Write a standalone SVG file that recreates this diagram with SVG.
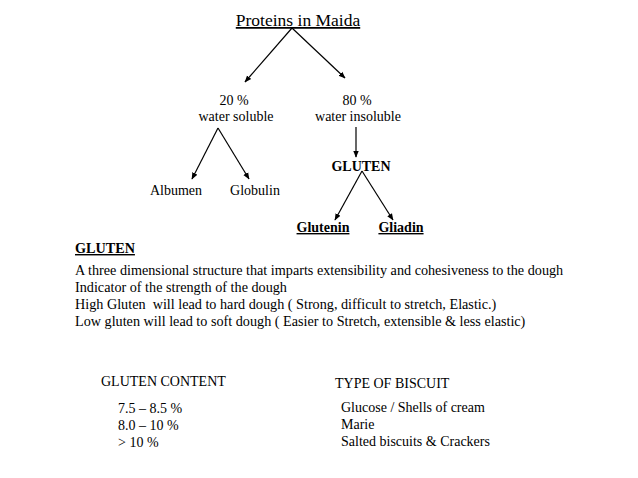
<svg xmlns="http://www.w3.org/2000/svg" width="638" height="478" viewBox="0 0 638 478">
<defs>
<marker id="ah" viewBox="0 0 10 10" refX="9" refY="5" markerWidth="7" markerHeight="7" markerUnits="userSpaceOnUse" orient="auto">
<path d="M0,1 L10,5 L0,9 Z" fill="#000"/>
</marker>
<style>
text{font-family:"Liberation Serif","Times New Roman",serif;fill:#000;font-size:14px}
.t{font-size:17.5px}
.d{font-size:14.2px;white-space:pre}
.b{font-weight:bold}
.m{text-anchor:middle}
.u{text-decoration:underline}
line{stroke:#000;stroke-width:1.2}
</style>
</defs>
<rect width="638" height="478" fill="#fff"/>
<g id="connectors">
<line x1="292" y1="28" x2="245" y2="82" marker-end="url(#ah)"/>
<line x1="292" y1="28" x2="345" y2="78" marker-end="url(#ah)"/>
<line x1="218" y1="128" x2="192" y2="179" marker-end="url(#ah)"/>
<line x1="218" y1="128" x2="249" y2="179" marker-end="url(#ah)"/>
<line x1="356" y1="127" x2="356" y2="157" marker-end="url(#ah)"/>
<line x1="362" y1="171" x2="335" y2="220" marker-end="url(#ah)"/>
<line x1="362" y1="171" x2="393" y2="220" marker-end="url(#ah)"/>
</g>
<g id="title"><text class="t m u" x="298" y="26">Proteins in Maida</text></g>
<g id="soluble"><text class="m" x="234" y="105">20 %</text><text class="m" x="236" y="121">water soluble</text></g>
<g id="insoluble"><text class="m" x="357" y="105">80 %</text><text class="m" x="358" y="121">water insoluble</text></g>
<g id="albumen"><text class="m" x="176" y="195">Albumen</text></g>
<g id="globulin"><text class="m" x="255" y="195">Globulin</text></g>
<g id="gluten"><text class="m b" x="361" y="171">GLUTEN</text></g>
<g id="glutenin"><text class="m b u" x="323" y="232">Glutenin</text></g>
<g id="gliadin"><text class="m b u" x="401" y="232">Gliadin</text></g>
<g id="description">
<text class="d b u" x="75" y="253">GLUTEN</text>
<text class="d" x="75" y="275">A three dimensional structure that imparts extensibility and cohesiveness to the dough</text>
<text class="d" x="75" y="292">Indicator of the strength of the dough</text>
<text class="d" x="75" y="309">High Gluten  will lead to hard dough ( Strong, difficult to stretch, Elastic.)</text>
<text class="d" x="75" y="326">Low gluten will lead to soft dough ( Easier to Stretch, extensible &amp; less elastic)</text>
</g>
<g id="table">
<text x="101" y="386">GLUTEN CONTENT</text>
<text x="335" y="388">TYPE OF BISCUIT</text>
<text x="118" y="413">7.5 – 8.5 %</text>
<text x="118" y="430">8.0 – 10 %</text>
<text x="118" y="447">&gt; 10 %</text>
<text x="341" y="412">Glucose / Shells of cream</text>
<text x="341" y="429">Marie</text>
<text x="341" y="446">Salted biscuits &amp; Crackers</text>
</g>
</svg>
